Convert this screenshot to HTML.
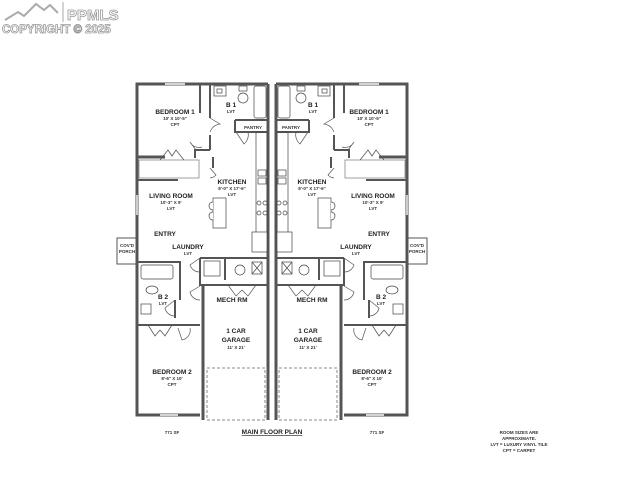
<!DOCTYPE html>
<html><head><meta charset="utf-8"><style>
html,body{margin:0;padding:0;background:#fff;}
svg{display:block;font-family:"Liberation Sans",Arial,sans-serif;}
.t{font-size:6.5px;font-weight:bold;fill:#222;text-anchor:middle}
.s{font-size:4.5px;font-weight:bold;fill:#333;text-anchor:middle}
</style></head><body>
<svg width="640" height="480" viewBox="0 0 640 480" xmlns="http://www.w3.org/2000/svg">
<rect width="640" height="480" fill="#fff"/>
<!-- logo -->
<g fill="none" stroke="#aaa" stroke-width="2">
<polyline points="5,20 18,12 24,16 36,4 44,10 50,5 58,13"/>
</g>
<line x1="63" y1="2" x2="63" y2="22" stroke="#aaa" stroke-width="1"/>
<text x="67" y="20" font-size="15" font-weight="bold" fill="#fff" stroke="#999" stroke-width="0.8">PPMLS</text>
<text x="2" y="33" font-size="11.5" font-weight="bold" fill="#fff" stroke="#999" stroke-width="0.8">COPYRIGHT © 2025</text>

<defs>
<g id="unit">
 <g fill="none" stroke="#555" stroke-width="3">
  <!-- outer -->
  <polyline points="268,84 137,84 137,415 200,415"/>
  <line x1="203" y1="420" x2="203" y2="285"/>
  <!-- bedroom 1 -->
  <polyline points="137,157 165,157"/>
  <line x1="200" y1="84" x2="200" y2="113" stroke-width="2"/>
  <line x1="210" y1="84" x2="210" y2="118" stroke-width="2"/>
  <line x1="210" y1="135" x2="210" y2="150" stroke-width="2"/>
  <polyline points="210,150 195,150 195,158" stroke-width="2"/>
  <polyline points="137,180 178,180" stroke-width="2"/>
  <line x1="213" y1="157" x2="213" y2="168" stroke-width="2"/>
  <!-- pantry -->
  <polyline points="235,120 235,132 268,132" stroke-width="2"/>
  <line x1="235" y1="120" x2="268" y2="120" stroke-width="2"/>
  <!-- laundry/mech -->
  <polyline points="200,258 268,258" stroke-width="2"/>
  <polyline points="200,258 200,285 268,285" stroke-width="2"/>
  <line x1="225" y1="258" x2="225" y2="280" stroke-width="2"/>
  <!-- B2 -->
  <polyline points="137,262 180,262 180,300" stroke-width="2"/>
  <polyline points="137,325 200,325" stroke-width="2"/>
  <line x1="175" y1="300" x2="175" y2="318" stroke-width="2"/>
 </g>
 <!-- party wall -->
 <line x1="268" y1="84" x2="268" y2="420" stroke="#555" stroke-width="3"/>
 <!-- window gaps -->
 <line x1="165" y1="84" x2="185" y2="84" stroke="#fff" stroke-width="1.4"/>
 <line x1="137" y1="195" x2="137" y2="215" stroke="#fff" stroke-width="1.4"/>
 <line x1="160" y1="415" x2="178" y2="415" stroke="#fff" stroke-width="1.4"/>
 <!-- closet bottom -->
 <rect x="139" y="160" width="60" height="18" fill="none" stroke="#777" stroke-width="0.7"/>
 <polyline points="160,160 168,150 172,156 176,150 184,160" fill="none" stroke="#555" stroke-width="0.8"/>
 <polyline points="148,325 155,336 160,330 165,336 172,325" fill="none" stroke="#555" stroke-width="0.8"/>
 <!-- door arcs -->
 <g fill="none" stroke="#555" stroke-width="0.7">
  <path d="M210,118 L220,124 A12,12 0 0 0 210,132"/>
  <path d="M196,150 L190,142 A10,10 0 0 0 202,147"/>
  <path d="M236,132 L244,144 A12,12 0 0 0 248,132"/>
  <path d="M210,168 L216,175 A10,10 0 0 1 210,178"/>
  <path d="M200,258 L190,265 A10,10 0 0 0 200,272"/>
  <path d="M200,286 L190,292 A10,10 0 0 0 200,300"/>
  <path d="M175,300 L165,308 A10,10 0 0 0 175,316"/>
  <path d="M178,328 L182,340 A10,10 0 0 0 190,328"/>
  <polyline points="228,285 236,296 242,290 248,296 256,285"/>
 </g>
 <!-- fixtures -->
 <g fill="#fff" stroke="#444" stroke-width="0.7">
  <rect x="214" y="86" width="12" height="10"/><rect x="217" y="89" width="5" height="4"/>
  <ellipse cx="243" cy="98" rx="5" ry="5"/><rect x="239" y="86" width="8" height="5"/>
  <rect x="254" y="86" width="12" height="32" rx="2"/>
  <rect x="256" y="132" width="11" height="103" fill="none"/>
  <rect x="258" y="170" width="8" height="6"/><rect x="258" y="178" width="8" height="6"/>
  <circle cx="259" cy="203" r="2"/><circle cx="265" cy="203" r="2"/><circle cx="259" cy="213" r="2"/><circle cx="265" cy="213" r="2"/>
  <rect x="252" y="232" width="15" height="20"/>
  <rect x="213" y="198" width="13" height="30"/>
  <path d="M213,202 A4,4 0 0 0 213,210 M213,212 A4,4 0 0 0 213,220"/>
  <rect x="204" y="261" width="16" height="15"/>
  <circle cx="240" cy="270" r="5"/>
  <rect x="252" y="262" width="10" height="12"/><path d="M252,262 L262,274 M262,262 L252,274"/>
  <rect x="141" y="265" width="32" height="14" rx="2"/>
  <ellipse cx="152" cy="290" rx="6" ry="4"/>
  <rect x="141" y="304" width="10" height="10"/>
 </g>
 <rect x="207" y="368" width="58" height="52" fill="none" stroke="#666" stroke-width="0.8" stroke-dasharray="3,2"/>
 <!-- porch -->
 <rect x="117" y="238" width="20" height="26" fill="none" stroke="#555" stroke-width="1"/>
</g>
</defs>
<use href="#unit"/>
<use href="#unit" transform="translate(544,0) scale(-1,1)"/>

<g class="t">
<text x="175" y="114">BEDROOM 1</text><text x="369" y="114">BEDROOM 1</text>
<text x="231" y="107">B 1</text><text x="313" y="107">B 1</text>
<text x="232" y="184">KITCHEN</text><text x="312" y="184">KITCHEN</text>
<text x="171" y="198">LIVING ROOM</text><text x="373" y="198">LIVING ROOM</text>
<text x="165" y="236">ENTRY</text><text x="379" y="236">ENTRY</text>
<text x="188" y="249">LAUNDRY</text><text x="356" y="249">LAUNDRY</text>
<text x="163" y="299">B 2</text><text x="381" y="299">B 2</text>
<text x="232" y="302">MECH RM</text><text x="312" y="302">MECH RM</text>
<text x="236" y="333">1 CAR</text><text x="308" y="333">1 CAR</text>
<text x="236" y="342">GARAGE</text><text x="308" y="342">GARAGE</text>
<text x="172" y="374">BEDROOM 2</text><text x="372" y="374">BEDROOM 2</text>
<text x="272" y="434" style="text-decoration:underline">MAIN FLOOR PLAN</text>
</g>
<g class="s">
<text x="175" y="120">10' X 10'-5"</text><text x="175" y="126">CPT</text>
<text x="369" y="120">10' X 10'-5"</text><text x="369" y="126">CPT</text>
<text x="231" y="113">LVT</text><text x="313" y="113">LVT</text>
<text x="253" y="129">PANTRY</text><text x="291" y="129">PANTRY</text>
<text x="232" y="190">8'-0" X 17'-6"</text><text x="232" y="196">LVT</text>
<text x="312" y="190">8'-0" X 17'-6"</text><text x="312" y="196">LVT</text>
<text x="171" y="204">10'-3" X 9'</text><text x="171" y="210">LVT</text>
<text x="373" y="204">10'-3" X 9'</text><text x="373" y="210">LVT</text>
<text x="188" y="255">LVT</text><text x="356" y="255">LVT</text>
<text x="127" y="247">COV'D</text><text x="127" y="253">PORCH</text>
<text x="417" y="247">COV'D</text><text x="417" y="253">PORCH</text>
<text x="163" y="305">LVT</text><text x="381" y="305">LVT</text>
<text x="236" y="349">11' X 21'</text><text x="308" y="349">11' X 21'</text>
<text x="172" y="380">8'-6" X 10'</text><text x="172" y="386">CPT</text>
<text x="372" y="380">8'-6" X 10'</text><text x="372" y="386">CPT</text>
<text x="172" y="434">771 SF</text><text x="377" y="434">771 SF</text>
<text x="519" y="434">ROOM SIZES ARE</text>
<text x="519" y="440">APPROXIMATE.</text>
<text x="519" y="446">LVT = LUXURY VINYL TILE</text>
<text x="519" y="452">CPT = CARPET</text>
</g>
</svg>
</body></html>
